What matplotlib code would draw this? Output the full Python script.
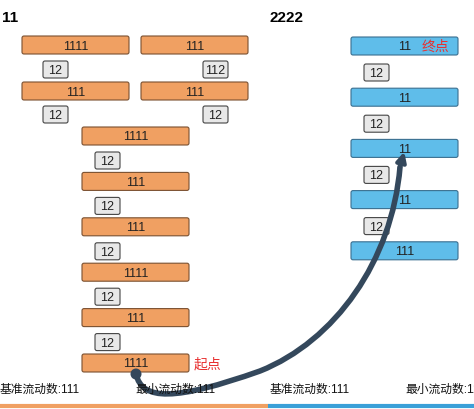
import matplotlib.pyplot as plt
from matplotlib.patches import FancyBboxPatch, FancyArrowPatch, Circle
from matplotlib.path import Path
import matplotlib.patches as mpatches

plt.rcParams['font.family'] = ['Liberation Sans', 'Noto Sans CJK SC', 'DejaVu Sans']

# data
top_left = ['1111', '111']
top_left_small = ['12', '112']
second_left = ['111', '111']
second_left_small = ['12', '12']
center_chain = ['1111', '111', '111', '1111', '111', '1111']
center_small = ['12', '12', '12', '12', '12']
right_chain = ['11', '11', '11', '11', '111']
right_small = ['12', '12', '12', '12']
footer = ['基准流动数:111', '最小流动数:111', '基准流动数:111', '最小流动数:111']

orange = '#f0a062'
blue = '#5fbdea'

fig = plt.figure(figsize=(4.74, 4.10), dpi=100)
ax = fig.add_axes([0, 0, 1, 1])
ax.set_xlim(0, 474)
ax.set_ylim(410, 0)
ax.axis('off')


def big_box(x, y, label, color):
    ax.add_patch(FancyBboxPatch((x, y), 107, 18, boxstyle='round,pad=0,rounding_size=2',
                                fc=color, ec='#7a5030' if color == orange else '#3a6f90', lw=0.8))
    ax.text(x + 53.5, y + 9.5, label, ha='center', va='center', fontsize=9, color='#222')


def small_box(x, y, label):
    ax.add_patch(FancyBboxPatch((x, y), 25, 17, boxstyle='round,pad=0,rounding_size=2',
                                fc='#e8e8e8', ec='#444', lw=0.8))
    ax.text(x + 12.5, y + 9, label, ha='center', va='center', fontsize=9, color='#222')


ax.text(2, 18, '11', fontsize=11, fontweight='bold', va='center')
ax.text(270, 18, '2222', fontsize=11, fontweight='bold', va='center')

for i, (a, s, b, t) in enumerate(zip(top_left, top_left_small, second_left, second_left_small)):
    x = 22 + i * 119
    big_box(x, 37, a, orange)
    small_box(43 if i == 0 else 203, 62, s)
    big_box(x, 83, b, orange)
    small_box(43 if i == 0 else 203, 107, t)

step = 45.4
for i, lab in enumerate(center_chain):
    big_box(82, 128 + i * step, lab, orange)
for i, lab in enumerate(center_small):
    small_box(95, 153 + i * step, lab)

rstep = 51.2
for i, lab in enumerate(right_chain):
    big_box(351, 38 + i * rstep, lab, blue)
for i, lab in enumerate(right_small):
    small_box(364, 65 + i * rstep, lab)

ax.text(194, 365, '起点', color='#e83030', fontsize=10, va='center')
ax.text(422, 47, '终点', color='#e83030', fontsize=10, va='center')

# flow curve
verts = [(136, 375), (142, 402), (175, 402), (260, 372), (335, 342), (392, 262), (400, 168)]
codes = [Path.MOVETO, Path.CURVE4, Path.CURVE4, Path.CURVE4, Path.CURVE4, Path.CURVE4, Path.CURVE4]
ax.add_patch(mpatches.PathPatch(Path(verts, codes), fc='none', ec='#34485c', lw=4,
                                capstyle='round'))
ax.add_patch(FancyArrowPatch((399, 172), (405, 150), arrowstyle='-|>', mutation_scale=14,
                             color='#34485c', lw=3))
ax.add_patch(Circle((136, 375), 5.5, fc='#34485c', ec='none'))

for i, t in enumerate(footer):
    ax.text(0 + i * 135, 390, t, fontsize=8.5, va='center', color='#111')

ax.plot([0, 268], [407, 407], color='#f0a062', lw=3, solid_capstyle='butt')
ax.plot([268, 474], [407, 407], color='#3aa0d8', lw=3, solid_capstyle='butt')

fig.savefig('out.png', dpi=100)
